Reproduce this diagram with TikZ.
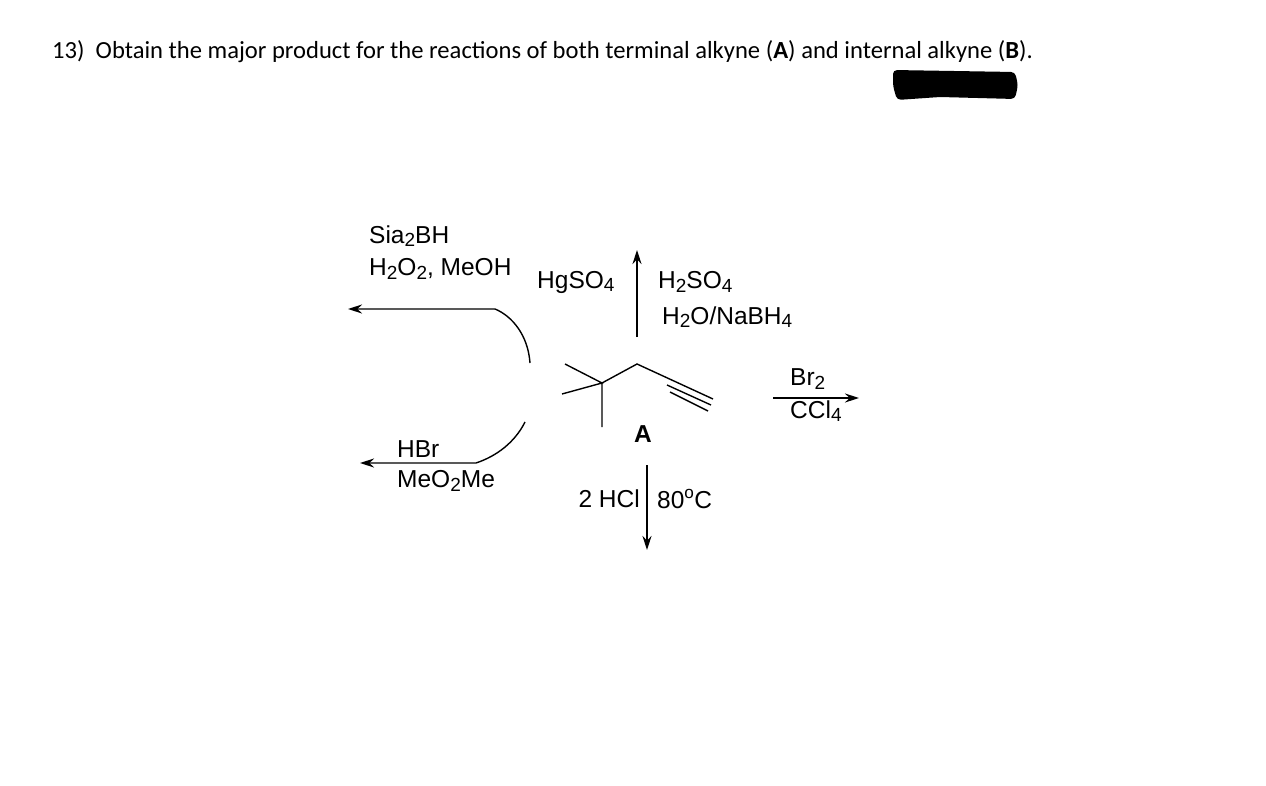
\documentclass[tikz,border=0pt]{standalone}
\usepackage{fontspec}
\setmainfont{Liberation Sans}
\newfontfamily\titlefont{Carlito}
\usetikzlibrary{arrows.meta}
\newcommand{\sbs}[1]{\raisebox{-0.28ex}{\fontsize{19}{20}\selectfont #1}}
\begin{document}
\begin{tikzpicture}[x=1pt,y=-1pt,
  rx/.style={inner sep=0pt,font=\fontsize{24.5}{28}\selectfont},
  bd/.style={line width=1.4pt},
  ar/.style={line width=1.4pt,-{Stealth[length=14pt,width=9pt]}}]
\useasboundingbox (0,0) rectangle (1266,786);
\node[anchor=west,inner sep=0pt,font=\titlefont\fontsize{24.6}{28}\selectfont] (t) at (52,52) {13)\ \ Obtain the major product for the reactions of both terminal alkyne (\textbf{A}) and internal alkyne (\textbf{B}).};
\fill[black,rounded corners=4pt] (893,70) -- (1015,72) -- (1018,85) -- (1015,99) -- (940,97) -- (897,100) -- (893,86) -- cycle;
\coordinate (q) at (602,383);
\coordinate (m1) at (565,364);
\coordinate (m2) at (562,394);
\coordinate (m3) at (602,427);
\coordinate (c2) at (637,364);
\coordinate (e) at (713,399);
\draw[bd] (m1)--(q)--(m2) (q)--(m3) (q)--(c2)--(e);
\draw[bd] (670,392)--(708,411);
\draw[bd] (667,385)--(711,405);
\node[rx,font=\bfseries\fontsize{24.5}{28}\selectfont] (A) at (643,434) {A};
\coordinate (u1) at (637,337); \coordinate (u2) at (637,250);
\draw[ar] (u1)--(u2);
\coordinate (d1) at (647,465); \coordinate (d2) at (647,550);
\draw[ar] (d1)--(d2);
\coordinate (r1) at (773,398); \coordinate (r2) at (859,398);
\draw[ar] (r1)--(r2);
\coordinate (a1) at (530,363); \coordinate (a2) at (495,309); \coordinate (a3) at (348,309);
\draw[ar] (a1) .. controls (528,335) and (512,316) .. (a2) -- (a3);
\coordinate (b1) at (525,422); \coordinate (b2) at (476,463); \coordinate (b3) at (360,463);
\draw[ar] (b1) .. controls (515,442) and (497,456) .. (b2) -- (b3);
\node[rx,anchor=west] (s1) at (369,236) {Sia\sbs{2}BH};
\node[rx,anchor=west] (s2) at (369,269) {H\sbs{2}O\sbs{2}, MeOH};
\node[rx,anchor=west] (h1) at (537,282) {HgSO\sbs{4}};
\node[rx,anchor=west] (h2) at (658,282) {H\sbs{2}SO\sbs{4}};
\node[rx,anchor=west] (h3) at (662,317) {H\sbs{2}O/NaBH\sbs{4}};
\node[rx,anchor=west] (br) at (790,379) {Br\sbs{2}};
\node[rx,anchor=west] (cc) at (790,411) {CCl\sbs{4}};
\node[rx,anchor=west] (hb) at (397,449) {HBr};
\node[rx,anchor=west] (mo) at (397,481) {MeO\sbs{2}Me};
\node[rx,anchor=east] (hc) at (640,499) {2 HCl};
\node[rx,anchor=west] (tc) at (657,499) {80\textsuperscript{o}C};
\end{tikzpicture}
\end{document}
